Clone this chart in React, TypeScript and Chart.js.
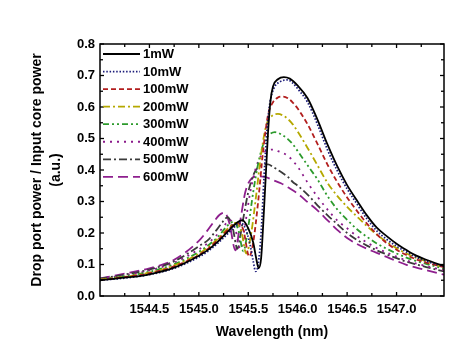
import { useEffect, useRef } from 'react';
import { Chart, registerables } from 'chart.js';

Chart.register(...registerables);

const SERIES_LABELS = ['1mW', '10mW', '100mW', '200mW', '300mW', '400mW', '500mW', '600mW'];

const S_1mW: [number, number][] = [[1544.0,0.05],[1544.25,0.058],[1544.5,0.069],[1544.75,0.09],[1545.0,0.128],[1545.1,0.148],[1545.2,0.175],[1545.3,0.207],[1545.38,0.232],[1545.44,0.241],[1545.5,0.215],[1545.55,0.17],[1545.58,0.12],[1545.605,0.088],[1545.63,0.12],[1545.655,0.25],[1545.68,0.4],[1545.7,0.52],[1545.725,0.62],[1545.75,0.665],[1545.8,0.688],[1545.86,0.695],[1545.92,0.69],[1546.0,0.668],[1546.1,0.628],[1546.2,0.56],[1546.3,0.482],[1546.4,0.412],[1546.5,0.352],[1546.6,0.303],[1546.7,0.256],[1546.8,0.217],[1546.9,0.19],[1547.0,0.166],[1547.1,0.146],[1547.2,0.128],[1547.3,0.115],[1547.48,0.095]];
const S_10mW: [number, number][] = [[1544.0,0.05],[1544.25,0.057],[1544.5,0.068],[1544.75,0.088],[1545.0,0.124],[1545.1,0.144],[1545.2,0.17],[1545.3,0.2],[1545.37,0.222],[1545.42,0.232],[1545.47,0.215],[1545.52,0.16],[1545.55,0.11],[1545.575,0.078],[1545.6,0.1],[1545.63,0.2],[1545.66,0.38],[1545.69,0.53],[1545.72,0.615],[1545.76,0.66],[1545.82,0.68],[1545.9,0.686],[1545.95,0.676],[1546.0,0.658],[1546.1,0.615],[1546.2,0.545],[1546.3,0.465],[1546.4,0.398],[1546.5,0.34],[1546.6,0.292],[1546.7,0.245],[1546.8,0.207],[1546.9,0.18],[1547.0,0.158],[1547.1,0.14],[1547.2,0.123],[1547.3,0.111],[1547.48,0.093]];
const S_100mW: [number, number][] = [[1544.0,0.051],[1544.25,0.06],[1544.5,0.072],[1544.75,0.094],[1545.0,0.13],[1545.1,0.152],[1545.2,0.18],[1545.3,0.212],[1545.39,0.232],[1545.45,0.21],[1545.51,0.125],[1545.55,0.17],[1545.6,0.3],[1545.65,0.46],[1545.7,0.575],[1545.75,0.615],[1545.8,0.63],[1545.85,0.633],[1545.9,0.628],[1545.95,0.614],[1546.0,0.595],[1546.1,0.545],[1546.2,0.483],[1546.3,0.418],[1546.4,0.362],[1546.5,0.313],[1546.6,0.27],[1546.7,0.23],[1546.8,0.196],[1546.9,0.168],[1547.0,0.147],[1547.1,0.13],[1547.2,0.116],[1547.3,0.106],[1547.48,0.092]];
const S_200mW: [number, number][] = [[1544.0,0.052],[1544.25,0.061],[1544.5,0.074],[1544.75,0.097],[1545.0,0.134],[1545.1,0.156],[1545.2,0.184],[1545.3,0.216],[1545.37,0.232],[1545.43,0.205],[1545.48,0.135],[1545.53,0.2],[1545.58,0.32],[1545.63,0.45],[1545.68,0.54],[1545.74,0.572],[1545.8,0.578],[1545.85,0.573],[1545.9,0.562],[1545.95,0.545],[1546.0,0.522],[1546.1,0.47],[1546.2,0.415],[1546.3,0.36],[1546.4,0.318],[1546.5,0.283],[1546.6,0.252],[1546.7,0.222],[1546.8,0.195],[1546.9,0.172],[1547.0,0.152],[1547.1,0.135],[1547.2,0.121],[1547.3,0.11],[1547.48,0.09]];
const S_300mW: [number, number][] = [[1544.0,0.053],[1544.25,0.063],[1544.5,0.077],[1544.75,0.101],[1545.0,0.14],[1545.1,0.162],[1545.2,0.19],[1545.28,0.22],[1545.35,0.236],[1545.4,0.21],[1545.45,0.142],[1545.5,0.22],[1545.55,0.33],[1545.6,0.42],[1545.65,0.48],[1545.7,0.508],[1545.77,0.52],[1545.85,0.51],[1545.9,0.498],[1545.95,0.482],[1546.0,0.46],[1546.1,0.415],[1546.2,0.37],[1546.3,0.318],[1546.4,0.275],[1546.5,0.242],[1546.6,0.212],[1546.7,0.188],[1546.8,0.167],[1546.9,0.15],[1547.0,0.135],[1547.1,0.122],[1547.2,0.111],[1547.3,0.102],[1547.48,0.087]];
const S_400mW: [number, number][] = [[1544.0,0.054],[1544.25,0.066],[1544.5,0.081],[1544.75,0.106],[1545.0,0.148],[1545.1,0.17],[1545.2,0.2],[1545.26,0.225],[1545.32,0.24],[1545.37,0.21],[1545.42,0.148],[1545.47,0.23],[1545.52,0.33],[1545.58,0.41],[1545.64,0.45],[1545.7,0.462],[1545.75,0.465],[1545.8,0.46],[1545.9,0.445],[1546.0,0.41],[1546.1,0.36],[1546.2,0.315],[1546.3,0.275],[1546.4,0.24],[1546.5,0.215],[1546.6,0.19],[1546.7,0.17],[1546.8,0.152],[1546.9,0.138],[1547.0,0.125],[1547.1,0.113],[1547.2,0.103],[1547.3,0.095],[1547.48,0.082]];
const S_500mW: [number, number][] = [[1544.0,0.055],[1544.25,0.068],[1544.5,0.084],[1544.75,0.11],[1545.0,0.158],[1545.1,0.18],[1545.18,0.21],[1545.24,0.235],[1545.29,0.25],[1545.34,0.22],[1545.39,0.15],[1545.44,0.23],[1545.5,0.33],[1545.56,0.39],[1545.62,0.413],[1545.7,0.418],[1545.75,0.41],[1545.8,0.4],[1545.85,0.39],[1545.9,0.378],[1545.95,0.362],[1546.0,0.35],[1546.1,0.322],[1546.2,0.288],[1546.3,0.257],[1546.4,0.228],[1546.5,0.2],[1546.6,0.178],[1546.7,0.16],[1546.8,0.145],[1546.9,0.132],[1547.0,0.12],[1547.1,0.109],[1547.2,0.1],[1547.3,0.092],[1547.48,0.078]];
const S_600mW: [number, number][] = [[1544.0,0.056],[1544.25,0.071],[1544.5,0.088],[1544.75,0.115],[1545.0,0.175],[1545.08,0.205],[1545.15,0.235],[1545.21,0.258],[1545.26,0.265],[1545.31,0.23],[1545.37,0.145],[1545.42,0.24],[1545.47,0.33],[1545.53,0.372],[1545.6,0.38],[1545.67,0.378],[1545.75,0.368],[1545.83,0.358],[1545.9,0.345],[1546.0,0.325],[1546.1,0.298],[1546.2,0.272],[1546.3,0.241],[1546.4,0.21],[1546.5,0.184],[1546.6,0.165],[1546.7,0.15],[1546.8,0.137],[1546.9,0.124],[1547.0,0.111],[1547.1,0.099],[1547.2,0.09],[1547.3,0.082],[1547.48,0.068]];

const SERIES_DATA = [S_1mW, S_10mW, S_100mW, S_200mW, S_300mW, S_400mW, S_500mW, S_600mW];
const SERIES_COLORS = ['#000000', '#1c1c7a', '#b21e1e', '#b5a800', '#2c9a2c', '#8a1a8a', '#3a3a3a', '#8e1f8e'];
const SERIES_DASHES: number[][] = [[], [1.5, 1.8], [5, 3], [7, 3, 2, 3], [6, 3, 2, 3, 2, 3], [2, 5], [8, 3, 2, 3], [10, 5]];

const X_TICKS = [1544.5, 1545.0, 1545.5, 1546.0, 1546.5, 1547.0];
const X_MINOR = [1544.25, 1544.75, 1545.25, 1545.75, 1546.25, 1546.75, 1547.25];
const Y_TICKS = [0, 0.1, 0.2, 0.3, 0.4, 0.5, 0.6, 0.7, 0.8];
const Y_MINOR = [0.05, 0.15, 0.25, 0.35, 0.45, 0.55, 0.65, 0.75];

const FONT_FAMILY = '"Liberation Sans", Arial, Helvetica, sans-serif';

const frameLegendPlugin = {
  id: 'frameLegend',
  afterDatasetsDraw(chart: any) {
    const { ctx, chartArea: a, scales } = chart;
    const x = scales.x;
    const y = scales.y;
    ctx.save();
    ctx.setLineDash([]);
    ctx.strokeStyle = '#000';
    ctx.lineWidth = 1.5;
    ctx.strokeRect(a.left, a.top, a.right - a.left, a.bottom - a.top);
    ctx.lineWidth = 1.3;
    const seg = (x1: number, y1: number, x2: number, y2: number) => {
      ctx.beginPath();
      ctx.moveTo(x1, y1);
      ctx.lineTo(x2, y2);
      ctx.stroke();
    };
    const xt = (v: number, len: number) => {
      const px = x.getPixelForValue(v);
      seg(px, a.bottom, px, a.bottom - len);
      seg(px, a.top, px, a.top + len);
    };
    const yt = (v: number, len: number) => {
      const py = y.getPixelForValue(v);
      seg(a.left, py, a.left + len, py);
      seg(a.right, py, a.right - len, py);
    };
    X_TICKS.forEach((v) => xt(v, 4));
    X_MINOR.forEach((v) => xt(v, 3));
    Y_TICKS.forEach((v) => yt(v, 4));
    Y_MINOR.forEach((v) => yt(v, 3));

    // legend
    ctx.font = `bold 13px ${FONT_FAMILY}`;
    ctx.textBaseline = 'middle';
    ctx.textAlign = 'left';
    chart.data.datasets.forEach((ds: any, i: number) => {
      const ly = a.top + 10 + i * 17.55;
      ctx.strokeStyle = ds.borderColor;
      ctx.lineWidth = 1.8;
      ctx.setLineDash(ds.borderDash || []);
      seg(a.left + 3, ly, a.left + 40, ly);
      ctx.setLineDash([]);
      ctx.fillStyle = '#000';
      ctx.fillText(ds.label, a.left + 43, ly + 0.5);
    });
    ctx.restore();
  },
};

export default function App() {
  const ref = useRef<HTMLCanvasElement | null>(null);

  useEffect(() => {
    if (!ref.current) return;
    Chart.defaults.color = '#000';
    const chart = new Chart(ref.current, {
      type: 'line',
      data: {
        datasets: SERIES_LABELS.map((label, i) => ({
          label,
          data: SERIES_DATA[i].map(([wx, wy]) => ({ x: wx, y: wy })),
          borderColor: SERIES_COLORS[i],
          backgroundColor: SERIES_COLORS[i],
          borderDash: SERIES_DASHES[i],
          borderWidth: 1.8,
          pointRadius: 0,
          fill: false,
          cubicInterpolationMode: 'monotone' as const,
        })),
      },
      options: {
        animation: false,
        responsive: false,
        maintainAspectRatio: false,
        layout: { padding: { top: 44, right: 30, left: 0, bottom: 0 } },
        plugins: {
          legend: { display: false },
          tooltip: { enabled: false },
        },
        scales: {
          x: {
            type: 'linear',
            min: 1544.0,
            max: 1547.48,
            grid: { display: false, drawTicks: false },
            border: { display: false },
            afterBuildTicks: (scale: any) => {
              scale.ticks = X_TICKS.map((v) => ({ value: v }));
            },
            afterFit: (scale: any) => {
              scale.height = 57;
            },
            ticks: {
              padding: 6,
              font: { family: FONT_FAMILY, size: 13, weight: 'bold' },
              color: '#000',
              maxRotation: 0,
              autoSkip: false,
              callback: (v: any) => Number(v).toFixed(1),
            },
            title: {
              display: true,
              text: 'Wavelength (nm)',
              color: '#000',
              font: { family: FONT_FAMILY, size: 14, weight: 'bold' },
              padding: { top: 0, bottom: 12.6 },
            },
          },
          y: {
            type: 'linear',
            min: 0,
            max: 0.8,
            grid: { display: false, drawTicks: false },
            border: { display: false },
            afterBuildTicks: (scale: any) => {
              scale.ticks = Y_TICKS.map((v) => ({ value: v }));
            },
            afterFit: (scale: any) => {
              scale.width = 100;
            },
            ticks: {
              padding: 5,
              font: { family: FONT_FAMILY, size: 13, weight: 'bold' },
              color: '#000',
              autoSkip: false,
              callback: (v: any) => Number(v).toFixed(1),
            },
            title: {
              display: true,
              text: ['Drop port power / Input core power', '(a.u.)'],
              color: '#000',
              font: { family: FONT_FAMILY, size: 14, weight: 'bold', lineHeight: 1.38 },
              padding: { top: 27, bottom: 0 },
            },
          },
        },
      },
      plugins: [frameLegendPlugin],
    });
    return () => chart.destroy();
  }, []);

  return (
    <div style={{ position: 'fixed', left: 0, top: 0, width: 474, height: 353, background: '#fff' }}>
      <canvas ref={ref} width={474} height={353} style={{ width: 474, height: 353, display: 'block' }} />
    </div>
  );
}
